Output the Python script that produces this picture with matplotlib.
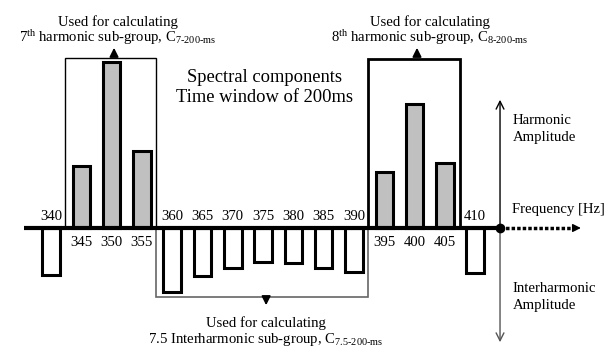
import matplotlib.pyplot as plt
from matplotlib.patches import Rectangle

plt.rcParams['font.family'] = ['Liberation Serif', 'DejaVu Serif']
plt.rcParams['mathtext.fontset'] = 'custom'
plt.rcParams['mathtext.rm'] = 'Liberation Serif'
plt.rcParams['mathtext.it'] = 'Liberation Serif:italic'

# spectral components (arbitrary amplitude units)
harm_freqs = [345, 350, 355, 395, 400, 405]
harm_amp = [62, 166, 77, 56, 124, 65]
inter_freqs = [340, 360, 365, 370, 375, 380, 385, 390, 410]
inter_amp = [47, 64, 48, 40, 34, 35, 40, 44, 45]

labels_above = [340, 360, 365, 370, 375, 380, 385, 390, 410]
labels_below = [345, 350, 355, 395, 400, 405]

fig = plt.figure(figsize=(6.16, 3.54), dpi=100)
ax = fig.add_axes([0, 0, 1, 1])
ax.set_xlim(331.58, 433.24)
ax.set_ylim(-126, 228)
ax.axis('off')

fs = 10.6

# group boxes
ax.add_patch(Rectangle((342.3, 0), 357.3 - 342.3, 170, fill=False, ec='k', lw=1.0, zorder=1))
ax.add_patch(Rectangle((392.3, 0), 407.5 - 392.3, 169, fill=False, ec='k', lw=2.0, zorder=1))
ax.add_patch(Rectangle((357.3, -69), 392.3 - 357.3, 69, fill=False, ec='#666666', lw=1.2, zorder=1))

ax.bar(harm_freqs, harm_amp, width=2.9, color='#c0c0c0', edgecolor='k', linewidth=2.2, zorder=3)
ax.bar(inter_freqs, [-a for a in inter_amp], width=2.9, color='white', edgecolor='k',
       linewidth=2.2, zorder=3)

# frequency axis
ax.plot([335.5, 414.1], [0, 0], color='k', lw=3, solid_capstyle='butt', zorder=4)
ax.plot([414.1, 426.5], [0, 0], color='k', lw=2.5, ls=(0, (1, 0.6)), zorder=4)
ax.annotate('', xy=(427.9, 0), xytext=(426.3, 0),
            arrowprops=dict(arrowstyle='-|>', color='k', lw=1, mutation_scale=12))
ax.plot([414.1], [0], 'o', color='k', ms=6, zorder=5)

# amplitude axis
ax.annotate('', xy=(414.1, 131), xytext=(414.1, 0),
            arrowprops=dict(arrowstyle='->', color='k', lw=1, mutation_scale=14))
ax.annotate('', xy=(414.1, -117), xytext=(414.1, 0),
            arrowprops=dict(arrowstyle='->', color='#555555', lw=1, mutation_scale=14))

# group arrows
ax.annotate('', xy=(350.4, 183), xytext=(350.4, 170),
            arrowprops=dict(arrowstyle='-|>', color='k', lw=1.3, mutation_scale=13))
ax.annotate('', xy=(400.4, 183), xytext=(400.4, 169),
            arrowprops=dict(arrowstyle='-|>', color='k', lw=1.3, mutation_scale=13))
ax.annotate('', xy=(375.5, -80), xytext=(375.5, -69),
            arrowprops=dict(arrowstyle='-|>', color='k', lw=1.3, mutation_scale=13))

for f in labels_above:
    ax.text(f, 12, str(f), ha='center', va='center', fontsize=fs)
for f in labels_below:
    ax.text(f, -14, str(f), ha='center', va='center', fontsize=fs)

hy = '\u2010'
ax.text(351, 206, 'Used for calculating', ha='center', va='center', fontsize=fs)
ax.text(351, 190, r'7$^{\mathrm{th}}$ harmonic sub-group, C$_{\mathrm{7' + hy + '200' + hy + 'ms}}$',
        ha='center', va='center', fontsize=fs)
ax.text(402.5, 206, 'Used for calculating', ha='center', va='center', fontsize=fs)
ax.text(402.5, 190, r'8$^{\mathrm{th}}$ harmonic sub-group, C$_{\mathrm{8' + hy + '200' + hy + 'ms}}$',
        ha='center', va='center', fontsize=fs)
ax.text(375.5, -95, 'Used for calculating', ha='center', va='center', fontsize=fs)
ax.text(375.5, -112, r'7.5 Interharmonic sub-group, C$_{\mathrm{7.5' + hy + '200' + hy + 'ms}}$',
        ha='center', va='center', fontsize=fs)

ax.text(375.3, 151, 'Spectral components', ha='center', va='center', fontsize=13.3)
ax.text(375.3, 130, 'Time window of 200ms', ha='center', va='center', fontsize=13.3)

ax.text(416.2, 108, 'Harmonic', ha='left', va='center', fontsize=fs)
ax.text(416.2, 91, 'Amplitude', ha='left', va='center', fontsize=fs)
ax.text(416.0, 18, 'Frequency [Hz]', ha='left', va='center', fontsize=fs)
ax.text(416.2, -60, 'Interharmonic', ha='left', va='center', fontsize=fs)
ax.text(416.2, -78, 'Amplitude', ha='left', va='center', fontsize=fs)

fig.savefig('out.png', dpi=100)
